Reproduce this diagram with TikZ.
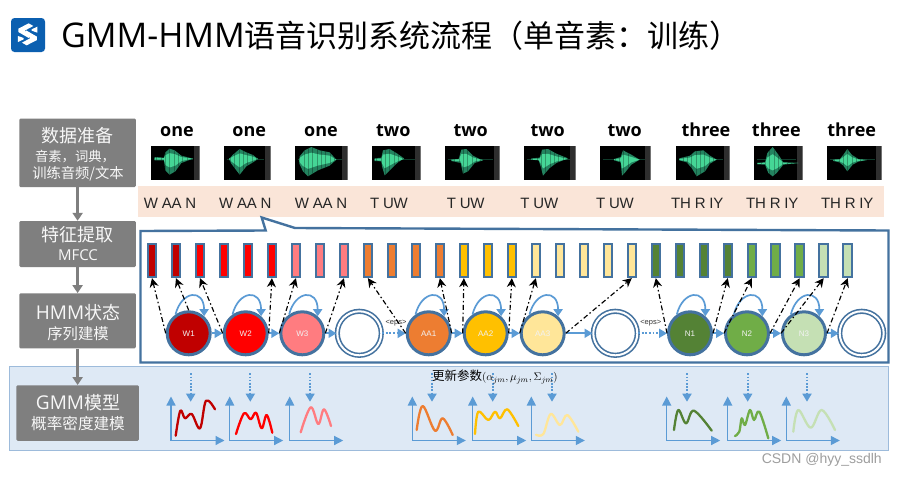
\documentclass[tikz,border=0pt]{standalone}
\usepackage{fontspec}
\setmainfont{Open Sans}
\newfontfamily\cjk{Noto Sans CJK SC}
\newfontfamily\arl{Liberation Sans}
\usetikzlibrary{arrows.meta}
\definecolor{bluee}{HTML}{44729F}
\definecolor{skyb}{HTML}{5B9BD5}
\definecolor{grayb}{HTML}{7F7F7F}
\definecolor{cDR}{HTML}{C00000}
\definecolor{cRD}{HTML}{FF0000}
\definecolor{cPK}{HTML}{FF7C80}
\definecolor{cOR}{HTML}{ED7D31}
\definecolor{cYE}{HTML}{FFC000}
\definecolor{cLY}{HTML}{FFE699}
\definecolor{cDG}{HTML}{548235}
\definecolor{cGR}{HTML}{70AD47}
\definecolor{cLG}{HTML}{C5E0B4}
\definecolor{wdark}{HTML}{23835F}
\definecolor{wlight}{HTML}{45D696}
\definecolor{logob}{HTML}{0B5FB0}
\definecolor{panelf}{HTML}{DEE9F5}
\definecolor{paneld}{HTML}{9DBBDB}
\definecolor{peach}{HTML}{FAE5D8}
\newcommand\fsz[1]{\fontsize{#1}{#1}\selectfont}
\tikzset{
  lbox/.style={fill=grayb,rounded corners=1.2pt,inner sep=0pt,draw=none},
  ltext/.style={text=white!94!gray,inner sep=0pt,font=\cjk},
  graya/.style={draw=grayb,line width=3pt,-{Triangle[length=8pt,width=10pt]}},
  word/.style={inner sep=0pt,anchor=base,font=\fsz{18}\bfseries},
  phone/.style={inner sep=0pt,font=\arl\fsz{15}\addfontfeatures{LetterSpace=-2},text=black!85},
  frame/.style={draw=bluee,line width=2pt,inner sep=0pt,minimum width=8.5pt,minimum height=33.5pt},
  state/.style={circle,draw=bluee,line width=3pt,inner sep=0pt,minimum size=43pt,text=white!90!gray,font=\arl\fsz{8}},
  final/.style={circle,draw=bluee,line width=1.6pt,double=white,double distance=2pt,fill=white,inner sep=0pt,minimum size=44pt},
  trans/.style={draw=skyb,line width=1.8pt,-{Triangle[length=8pt,width=9pt]}},
  etrans/.style={draw=skyb,line width=1.9pt,dash pattern=on 1.9pt off 1.7pt,-{Triangle[length=8pt,width=9pt]}},
  selfl/.style={draw=skyb,line width=1.7pt,-{Triangle[length=7pt,width=9pt]}},
  align/.style={draw=black,line width=1.15pt,dash pattern=on 5pt off 2.6pt on 1.5pt off 2.6pt,-{Stealth[length=9pt,width=9pt]}},
  eps/.style={inner sep=0pt,font=\arl\fsz{7.5},text=black!80},
  gcurve/.style={line width=2.3pt,line cap=round,line join=round},
  axisl/.style={draw=skyb,line width=1.3pt,{Triangle[length=9pt,width=9pt]}-{Triangle[length=9pt,width=9pt]}},
  dnarrow/.style={draw=skyb,line width=1.7pt,dash pattern=on 1.7pt off 1.5pt,-{Triangle[length=8pt,width=9pt]}},
}
\newcommand\wv[5]{%
  \fill[black] (#1,146) rectangle (#2,180);
  \fill[black!82] ({#2-5.5},146) rectangle (#2,180);
  \draw[black!55,line width=.7pt] (#2,146) -- (#2,180);
  \draw[wdark!45!black,line width=.5pt] ({#1+3},159.2) -- ({#2-6},159.2);
  \begin{scope}[shift={(#3,143)},x=.33333pt,y=-.33333pt]
    \fill[wdark] plot coordinates {#5} -- cycle;
    \begin{scope}[shift={(0,#4)},yscale=.55,shift={(0,-#4)}]
      \fill[wlight] plot coordinates {#5} -- cycle;
    \end{scope}
    \begin{scope}
      \clip plot coordinates {#5} -- cycle;
      \foreach \k in {0,...,60} \draw[black,opacity=.28,line width=.6pt] ({\k*13},0) -- ({\k*13},120);
    \end{scope}
  \end{scope}}
\begin{document}
\begin{tikzpicture}[x=1pt,y=-1pt]
\useasboundingbox (0,0) rectangle (897,477);
\fill[white] (0,0) rectangle (897,477);
% logo
\fill[logob,rounded corners=3.5pt] (11,18) rectangle (45,52);
\begin{scope}[x=.33333pt,y=-.33333pt]
  \fill[white] (55,86) -- (86,70) -- (100,78) -- (74,92) -- (88,100) -- (88,115) -- (55,96) -- cycle;
  \fill[white] (111,120) -- (80,136) -- (66,128) -- (92,114) -- (78,106) -- (78,91) -- (111,110) -- cycle;
  \fill[white] (95,88) -- (112,80) -- (112,98) -- (95,92) -- cycle;
  \fill[white] (71,118) -- (54,126) -- (54,108) -- (71,114) -- cycle;
\end{scope}
\node[anchor=base west,inner sep=0pt] (title) at (61,47) {\fsz{34}GMM-HMM{\cjk\fsz{31}语音识别系统流程（单音素：训练）}};
% gmm panel
\fill[fill=panelf,draw=paneld,line width=1pt] (9.5,366) rectangle (888.5,450);
% peach band
\fill[peach] (138,186) rectangle (884,217);
% left boxes
\node[lbox,minimum width=116.5pt,minimum height=68.5pt] (b1) at (77.6,152.8) {};
\node[lbox,minimum width=116.5pt,minimum height=46pt] (b2) at (77.6,244) {};
\node[lbox,minimum width=116.5pt,minimum height=55pt] (b3) at (77.6,320.8) {};
\node[lbox,minimum width=122.5pt,minimum height=55.5pt] (b4) at (77.6,413) {};
\node[ltext,font=\cjk\fsz{18}] (t1a) at (77.6,136) {数据准备};
\node[ltext,font=\cjk\fsz{13.3}] (t1b) at (75,157) {音素，词典，};
\node[ltext,font=\cjk\fsz{14.3}] (t1c) at (78,174) {训练音频/文本};
\node[ltext,font=\cjk\fsz{18}] (t2a) at (77.6,235) {特征提取};
\node[ltext,font=\fsz{15}] (t2b) at (78,255) {MFCC};
\node[ltext,font=\fsz{19}] (t3a) at (78,312.5) {HMM{\cjk\fsz{18}状态}};
\node[ltext,font=\cjk\fsz{15.3}] (t3b) at (78,333.5) {序列建模};
\node[ltext,font=\fsz{19}] (t4a) at (78,403) {GMM{\cjk\fsz{18}模型}};
\node[ltext,font=\cjk\fsz{15.6}] (t4b) at (78,424) {概率密度建模};
\draw[graya] (b1.south) -- (b2.north);
\draw[graya] (b2.south) -- (b3.north);
\draw[graya] (b3.south) -- (b4.north);
% words
\foreach \n/\x/\t in {1/177/one,2/249.3/one,3/321/one,4/393.3/two,5/470.7/two,6/547.7/two,7/624.7/two,8/706/three,9/776.3/three,10/851.7/three}
  \node[word] (w\n) at (\x,136) {\t};
% waves
\wv{151}{199.3}{148}{47}{(20,42)(48,44)(52,28)(65,17)(80,22)(100,38)(135,47)(100,60)(82,85)(65,95)(52,82)(48,52)(20,52)}
\wv{224.3}{270}{148}{47}{(243,48)(255,35)(275,18)(295,28)(315,36)(330,48)(312,60)(295,70)(275,95)(262,78)(250,62)}
\wv{295}{347.7}{148}{50}{(455,40)(470,22)(490,12)(515,22)(545,28)(565,50)(545,68)(510,82)(480,100)(465,85)(453,60)}
\wv{372.3}{420.7}{368}{50}{(20,46)(40,44)(45,22)(65,18)(85,30)(108,46)(90,58)(75,72)(50,97)(42,70)(40,55)(20,54)}
\wv{445.3}{499}{368}{50}{(250,50)(272,48)(280,20)(295,18)(315,38)(335,48)(345,52)(320,60)(300,85)(285,92)(278,60)(250,54)}
\wv{524}{575.7}{368}{50}{(490,46)(515,44)(522,20)(540,18)(565,32)(600,46)(565,60)(545,75)(525,98)(518,70)(512,52)(490,50)}
\wv{600}{650.7}{368}{50}{(738,48)(758,42)(765,22)(790,35)(815,50)(790,65)(770,90)(762,98)(758,58)(738,52)}
\wv{676}{729.3}{670}{50}{(28,46)(60,38)(75,25)(100,22)(120,38)(140,50)(120,62)(105,85)(80,100)(65,75)(50,58)(28,52)}
\wv{754}{802.3}{670}{60}{(262,60)(285,58)(292,30)(308,12)(325,35)(340,58)(385,60)(340,65)(320,90)(308,100)(295,90)(285,65)(262,64)}
\wv{827}{881}{670}{51}{(490,50)(510,48)(520,35)(532,18)(545,35)(565,48)(590,51)(565,56)(548,65)(532,85)(520,68)(508,58)(490,54)}
% phones
\foreach \n/\x/\t in {1/170/W AA N,2/245.3/W AA N,3/321/W AA N,4/389/T UW,5/465.7/T UW,6/539.3/T UW,7/615/T UW,8/697.3/TH R IY,9/772.3/TH R IY,10/847.3/TH R IY}
  \node[phone] (p\n) at (\x,203.3) {\t};
% callout
\draw[bluee,line width=2.4pt,line join=miter,fill=white] (140.5,231) -- (265.7,230.5) -- (261.7,217.5) -- (295,228) -- (888.5,230.5) -- (888.5,362.5) -- (140.5,362.5) -- cycle;
% frames
\foreach \i/\c in {0/cDR,1/cDR,2/cRD,3/cRD,4/cRD,5/cRD,6/cPK,7/cPK,8/cPK,9/cOR,10/cOR,11/cOR,12/cOR,13/cYE,14/cYE,15/cYE,16/cLY,17/cLY,18/cLY,19/cLY,20/cLY,21/cDG,22/cDG,23/cDG,24/cDG,25/cGR,26/cGR,27/cGR,28/cLG,29/cLG}
  \node[frame,fill=\c] (r\i) at ({152+23.99*\i},260.4) {};
% states
\node[state,fill=cDR] (s1) at (188.7,333.3) {W1};
\node[state,fill=cRD] (s2) at (245.7,333.3) {W2};
\node[state,fill=cPK] (s3) at (302.3,333.3) {W3};
\node[final] (f1) at (359.3,333.3) {};
\node[state,fill=cOR] (s4) at (428.7,333.3) {AA1};
\node[state,fill=cYE] (s5) at (485.7,333.3) {AA2};
\node[state,fill=cLY] (s6) at (542.7,333.3) {AA3};
\node[final] (f2) at (615.3,333.3) {};
\node[state,fill=cDG] (s7) at (690,333.3) {N1};
\node[state,fill=cGR] (s8) at (747,333.3) {N2};
\node[state,fill=cLG] (s9) at (804,333.3) {N3};
\node[final] (f3) at (861.7,333.3) {};
% self loops
\foreach \s in {s1,s2,s3,s4,s5,s6,s7,s8,s9}
  \draw[selfl] (\s.125) .. controls +(6,-24) and +(0,-28) .. (\s.48);
% transitions
\draw[trans] (s1) -- (s2);
\draw[trans] (s2) -- (s3);
\draw[trans] (s3) -- (f1);
\draw[etrans] (f1) -- (s4);
\draw[trans] (s4) -- (s5);
\draw[trans] (s5) -- (s6);
\draw[trans] (s6) -- (f2);
\draw[etrans] (f2) -- (s7);
\draw[trans] (s7) -- (s8);
\draw[trans] (s8) -- (s9);
\draw[trans] (s9) -- (f3);
\node[eps] (e1) at (396,322.7) {<eps>};
\node[eps] (e2) at (650.7,322.7) {<eps>};
% alignments
\foreach \a/\b in {s1.west/r0,s1.north/r1,s2.west/r2,s2.east/r5,s3.west/r6,s3.east/r8,s4.west/r9,s4.east/r12,s5.west/r13,s5.east/r15,s6.west/r16,s6.east/r20,s7.west/r21,s7.east/r24,s8.west/r25,s8.east/r27,s9.west/r28,s9.east/r29}
  \draw[align] (\a) -- (\b.south);
% gmm axes and arrows
\foreach \n/\x/\d in {1/171/190.7,2/229.7/250.3,3/289.7/310,4/412.3/432,5/472.7/492.7,6/531.3/552,7/666.7/687,8/727.7/747.7,9/786.3/807}{
  \coordinate (ya\n) at (\x,396.5);
  \coordinate (oa\n) at (\x,440.5);
  \coordinate (xa\n) at ({\x+53.5},440.5);
  \draw[axisl] (ya\n) -- (oa\n) -- (xa\n);
  \coordinate (da\n) at (\d,373.3);
  \coordinate (db\n) at (\d,401.7);
  \draw[dnarrow] (da\n) -- (db\n);
}
\draw[gcurve,cDR] plot[smooth,tension=.6] coordinates {(175.7,435.7)(180.3,410.7)(185,418.3)(191.7,414)(200,428.3)(206,400.7)(215,409.3)};
\draw[gcurve,cRD] plot[smooth,tension=.6] coordinates {(236,434)(244,413.3)(250.7,419.3)(256,412.7)(261.7,428.3)(266.7,415)(272.3,432.7)};
\draw[gcurve,cPK] plot[smooth,tension=.6] coordinates {(300.7,432.3)(310.7,407.3)(318.3,424)(324,409.3)(331,426)};
\draw[gcurve,cOR] plot[smooth,tension=.6] coordinates {(416.7,430)(422.7,406)(435,430.7)(442.7,418.3)(452.7,435)};
\draw[gcurve,cYE] plot[smooth,tension=.6] coordinates {(475,434)(478.3,411.7)(488.3,420)(495,411.7)(500,418.3)(507.3,409.3)(518.3,426)};
\draw[gcurve,cLY] plot[smooth,tension=.6] coordinates {(536,434.7)(543.3,434)(550.7,414)(560,425)(567.3,415)(578.3,431.7)};
\draw[gcurve,cDG] plot[smooth,tension=.6] coordinates {(674,430)(678.3,410)(686,423.3)(694,410.7)(711.7,430.7)};
\draw[gcurve,cGR] plot[smooth,tension=.6] coordinates {(735,436)(739.3,431.7)(741.7,418.3)(745,425)(750,410)(754,420)(759.3,411.7)(768.3,438.3)};
\draw[gcurve,cLG] plot[smooth,tension=.6] coordinates {(793.3,431.7)(798.3,410)(810.7,427.7)(821.7,410)(835,430)};
\node[anchor=west,inner sep=0pt] (upd) at (432,377) {{\cjk\fsz{12.5}更新参数}\fsz{10.95}$\left(\alpha_{jm},\mu_{jm},\Sigma_{jm}\right)$};
\node[anchor=east,inner sep=0pt,font=\arl\fsz{14},text=black!38] (wm) at (882,460) {CSDN @hyy\_ssdlh};
\end{tikzpicture}
\end{document}
